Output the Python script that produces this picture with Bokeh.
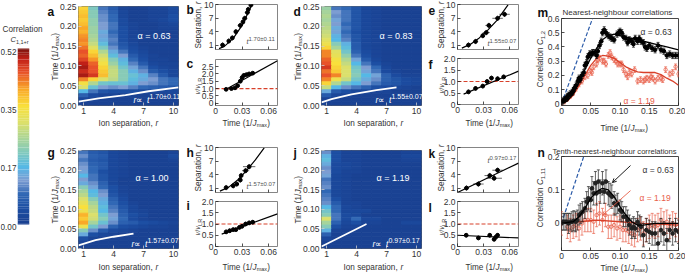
import numpy as np
from bokeh.embed import file_html
from bokeh.resources import INLINE
from bokeh.plotting import figure
from bokeh.layouts import row, column
from bokeh.models import Label, FixedTicker, Arrow, OpenHead, Range1d

# ---------- heat maps: correlation x 100, rows from t=0.245 (top) to t=0.005, columns r=1..10
HEAT_A = [
 [36,21,10,7,2,1,1,2,2,4],[37,22,11,8,3,1,1,2,2,4],[38,22,12,9,3,1,1,2,2,5],[37,23,12,9,4,1,1,2,3,5],
 [38,23,13,10,4,2,1,1,2,3],[40,24,13,10,5,2,1,1,2,2],[39,24,15,9,5,2,1,1,1,1],[41,25,14,10,5,2,1,1,1,1],
 [42,26,15,11,5,2,1,1,1,1],[41,28,18,10,6,3,1,1,1,1],[43,31,21,12,7,4,2,1,1,1],[45,36,26,15,10,5,3,1,1,1],
 [44,38,29,18,13,7,4,2,1,1],[46,41,32,22,16,9,5,2,2,1],[49,44,34,24,18,11,7,3,2,2],[50,45,36,27,20,14,10,5,3,2],
 [48,45,37,28,22,16,12,7,5,3],[50,47,38,28,22,19,16,11,7,3],[42,36,30,27,22,18,15,13,10,9],[34,26,20,19,19,16,13,12,10,9],
 [30,19,13,12,13,11,9,8,7,6],[17,10,6,5,5,5,4,3,3,3],[8,4,2,2,1,1,1,1,1,1],[3,2,1,1,1,1,1,1,1,1],[1,1,1,1,1,1,1,1,1,1]]
HEAT_D = [
 [24,10,9,6,3,2,1,1,1,1],[25,13,10,6,3,2,1,1,1,1],[26,12,10,6,3,2,1,1,1,1],[25,14,10,6,3,2,1,1,1,1],
 [26,13,9,6,3,2,1,1,1,1],[27,15,10,6,3,2,1,1,1,1],[28,14,9,5,3,2,1,1,1,1],[29,16,10,6,3,2,1,1,1,1],
 [31,17,11,6,3,2,1,1,1,1],[33,22,16,7,3,2,1,1,1,1],[36,25,18,7,3,2,1,1,1,1],[42,31,20,8,4,2,1,1,1,1],
 [42,32,23,10,5,2,1,1,1,1],[44,34,26,14,7,3,1,1,1,1],[45,35,28,17,10,5,2,1,1,1],[47,36,30,20,13,9,3,1,1,1],
 [43,37,30,21,14,10,4,2,1,1],[45,42,30,22,17,14,8,4,2,2],[42,33,28,20,15,12,8,6,4,3],[36,26,20,17,13,10,7,6,4,3],
 [28,17,12,10,8,5,4,3,2,1],[15,7,5,3,3,2,2,1,1,1],[7,3,2,1,1,1,1,1,1,1],[2,1,1,1,1,1,1,1,1,1],[1,1,1,1,1,1,1,1,1,1]]
HEAT_G = [
 [10,7,6,3,2,1,1,1,1,2],[12,8,7,3,2,1,1,1,1,4],[10,7,6,3,2,1,1,1,1,2],[12,8,7,3,2,1,1,1,1,1],
 [13,9,7,3,2,1,1,1,1,1],[14,9,5,3,2,1,1,1,1,1],[17,10,6,3,2,1,1,1,1,1],[13,10,6,3,1,1,1,1,1,1],
 [15,12,8,3,1,1,1,1,1,1],[22,14,9,5,2,1,1,1,1,1],[25,17,12,5,2,1,1,1,1,1],[27,18,13,6,3,1,1,1,1,1],
 [30,22,15,8,4,1,1,1,1,1],[32,25,16,9,5,2,1,1,1,1],[35,27,18,10,6,3,1,1,1,1],[33,28,17,11,7,3,2,1,1,1],
 [39,30,20,13,8,5,3,1,1,1],[37,29,22,14,9,4,2,1,1,1],[40,25,19,12,8,7,5,4,3,2],[33,20,13,8,5,4,3,2,2,1],
 [22,12,7,4,3,2,1,1,1,1],[15,5,3,2,1,1,1,1,1,1],[5,2,1,1,1,1,1,1,1,1],[2,1,1,1,1,1,1,1,1,1],[1,1,1,1,1,1,1,1,1,1]]
HEAT_J = [
 [12,5,2,2,1,1,1,1,2,2],[16,5,2,2,1,1,1,1,3,3],[18,5,2,2,1,1,1,1,2,2],[15,4,3,2,1,1,1,1,1,1],
 [12,4,3,2,1,1,1,1,1,1],[13,4,2,2,1,1,1,1,1,1],[14,3,2,1,1,1,1,1,1,1],[10,3,2,1,1,1,1,1,1,1],
 [11,3,2,1,1,1,1,1,1,1],[12,3,2,1,1,1,1,1,1,1],[9,3,2,1,1,1,1,1,1,1],[10,3,2,1,1,1,1,1,1,1],
 [11,5,2,1,1,1,1,1,1,1],[12,7,2,2,1,1,1,1,1,1],[17,9,3,2,1,1,1,1,1,1],[20,9,3,3,3,1,1,1,1,1],
 [22,10,4,3,1,1,1,1,1,1],[30,10,4,9,3,3,1,1,1,1],[25,8,3,5,2,2,1,1,3,3],[22,5,2,2,1,1,1,1,1,1],
 [16,2,1,1,1,1,1,1,1,1],[8,1,1,1,1,1,1,1,1,1],[3,1,1,1,1,1,1,1,1,1],[1,1,1,1,1,1,1,1,1,1],[1,1,1,1,1,1,1,1,1,1]]

FIT_A_R = [0.5, 2.5, 5.2, 7.5, 10.5]; FIT_A_T = [0.010, 0.018, 0.026, 0.036, 0.046]
FIT_D_R = [0.5, 1.5, 3.5, 6.0, 8.0];  FIT_D_T = [0.008, 0.016, 0.028, 0.039, 0.046]
FIT_G_R = [0.5, 2.2, 4.0, 6.0];       FIT_G_T = [0.008, 0.0215, 0.030, 0.038]
FIT_J_R = [0.5, 5.0];                 FIT_J_T = [0.005, 0.0625]

# ---------- separation and velocity panels
B_T = [.008,.015,.019,.023,.028,.031,.033,.036,.037,.040]
B_R = [1.0,1.9,2.6,4.0,5.4,6.2,7.0,8.3,9.0,10.0]
B_XE = [.002,.002,.002,.002,.003,.002,.003,.003,.002,.003]
B_LT = [.004,.010,.020,.030,.040,.050]; B_LR = [.2,.7,2.5,5.4,9.6,14.0]
C_T = [.012,.018,.022,.025,.028,.030,.032,.035,.038,.042]
C_V = [.95,1.0,1.05,1.2,1.5,1.75,1.9,1.95,2.0,2.05]
C_LT = [.012,.070]; C_LV = [.95,2.9]

E_T = [.0126,.0207,.029,.033,.036,.046,.054]; E_R = [1.0,1.8,3.1,3.8,5.4,7.0,7.9]
E_XE = [.002,.003,.002,.004,.004,.006,.006]
E_LT = [.005,.015,.025,.035,.045,.058]; E_LR = [.3,1.2,2.6,4.4,6.5,10.0]
F_T = [.0126,.0207,.029,.034,.039,.046,.053]; F_V = [.55,.7,.8,1.0,1.15,1.12,1.2]
F_LT = [.007,.070]; F_LV = [.45,1.45]

H_T = [.012,.020,.024,.028,.029,.034,.038]; H_R = [1.1,1.5,1.9,2.8,3.8,4.9,5.8]
H_XE = [.001,.002,.002,.002,.002,.004,.007]
H_LT = [.005,.015,.025,.035,.045,.055]; H_LR = [.3,1.2,2.8,4.9,7.3,10.0]
I_T = [.012,.016,.020,.023,.027,.030,.034,.038,.042]
I_V = [.65,.7,.75,.75,.85,.9,1.0,1.05,1.08]
I_LT = [.007,.070]; I_LV = [.55,1.45]

K_T = [.0103,.024,.037,.042,.046]; K_R = [1.0,1.9,3.8,3.2,5.0]
K_XE = [.003,.006,.006,.009,.006]
K_LT = [.0,.070]; K_LR = [0,6.6]
L_T = [.010,.024,.037,.042,.044,.046]; L_V = [.5,.38,.5,.32,.42,.5]
L_LT = [.0,.070]; L_LV = [.5,.38]

# ---------- nearest-neighbour correlations
M_T_K = [0,.002,.005,.008,.01,.012,.015,.018,.02,.022,.025,.028,.03,.032,.035,.038,.04,.043,.045,.048,.05,.053,.056,.06,.062,.065,.068,.07,.073,.076,.08,.083,.086,.09,.095,.098,.1,.103,.106,.11,.113,.116,.12,.123,.126,.13,.133,.136,.14,.143,.146,.15,.155,.16,.165,.17,.175,.18,.185,.19,.195,.2]
M_Y_K = [.01,.02,.03,.04,.05,.06,.07,.08,.09,.11,.13,.16,.18,.17,.20,.22,.27,.29,.33,.35,.35,.36,.36,.34,.37,.41,.44,.50,.52,.50,.48,.47,.46,.45,.49,.50,.51,.50,.47,.46,.43,.45,.44,.42,.46,.44,.46,.44,.43,.40,.39,.41,.39,.38,.41,.38,.37,.34,.35,.34,.34,.34]
M_LT_K = [0,.01,.02,.03,.04,.05,.06,.07,.08,.09,.1,.12,.14,.16,.18,.2]
M_LY_K = [0,.02,.07,.15,.24,.32,.39,.45,.48,.49,.48,.46,.44,.42,.40,.38]
M_T_R = [0,.005,.01,.015,.02,.025,.03,.035,.04,.045,.05,.052,.055,.06,.062,.065,.07,.073,.076,.08,.083,.086,.09,.093,.096,.1,.103,.106,.11,.113,.116,.12,.125,.13,.135,.14,.143,.146,.15,.153,.156,.16,.165,.17,.173,.178,.185,.19,.195,.2]
M_Y_R = [.01,.02,.04,.06,.08,.11,.14,.16,.19,.20,.23,.22,.26,.28,.31,.32,.30,.30,.28,.34,.36,.33,.31,.30,.28,.28,.28,.24,.21,.19,.22,.21,.24,.16,.17,.16,.17,.18,.17,.19,.18,.16,.18,.18,.17,.24,.21,.22,.26,.21]
M_LT_R = [0,.01,.02,.03,.04,.05,.06,.07,.08,.09,.1,.11,.12,.13,.14,.16,.17,.18,.19,.2]
M_LY_R = [0,.02,.06,.13,.20,.27,.32,.34,.335,.32,.29,.26,.24,.225,.22,.22,.205,.18,.16,.13]
M_LR_T = [0,.053]; M_LR_Y = [0,.6]

# ---------- tenth-nearest-neighbour correlations
N_T_K = [0,.003,.006,.009,.012,.015,.018,.021,.024,.027,.03,.033,.036,.04,.043,.046,.05,.052,.055,.058,.06,.063,.066,.07,.073,.076,.08,.083,.086,.09,.093,.096,.1,.103,.106,.11,.113,.116,.12,.123,.126,.13,.133,.136,.14,.145,.15,.155,.16,.165,.17,.175,.18,.185,.19,.195,.2]
N_Y_K = [0,.005,.005,.005,0,.005,.005,.008,.005,.01,.025,.03,.035,.045,.065,.075,.07,.105,.09,.12,.09,.125,.095,.12,.095,.125,.09,.085,.08,.06,.055,.06,.04,.035,.02,.02,.01,-.005,-.015,-.01,-.015,.005,-.005,-.01,-.035,-.02,-.025,-.03,-.03,-.06,-.02,-.03,-.05,-.02,-.03,-.02,-.025]
N_E_K = [.02,.025,.025,.025,.03,.025,.03,.03,.03,.03,.03,.03,.03,.03,.03,.035,.035,.035,.035,.035,.035,.035,.035,.035,.035,.035,.035,.035,.035,.035,.03,.03,.03,.03,.03,.03,.03,.03,.03,.03,.03,.03,.03,.03,.035,.035,.035,.035,.035,.035,.035,.035,.035,.035,.035,.035,.035]
N_LT_K = [0,.02,.03,.04,.05,.06,.07,.08,.09,.1,.11,.12,.13,.14,.16,.2]
N_LY_K = [0,.005,.02,.045,.075,.095,.105,.1,.08,.05,.025,.005,-.005,-.005,0,0]
N_T_R = [0,.01,.015,.02,.025,.03,.035,.04,.045,.05,.055,.06,.065,.07,.075,.08,.085,.09,.095,.1,.105,.11,.115,.12,.125,.13,.135,.14,.145,.15,.155,.16,.165,.17,.175,.18,.185,.19,.195,.2]
N_Y_R = [0,-.01,-.02,-.01,-.005,-.015,0,.01,.01,.01,.005,.025,.03,.01,.025,-.01,-.01,-.005,-.015,-.01,-.02,-.02,-.025,-.03,-.035,-.02,-.015,-.03,-.02,-.01,-.005,-.01,-.005,.01,0,.005,-.01,0,-.005,-.02]
N_LT_R = [0,.03,.06,.1,.14,.2]; N_LY_R = [0,.005,.01,.005,0,-.005]
N_LB_T = [0,.038]; N_LB_Y = [0,.2]
N_ARROW_K = [.118,.173,.087,.122]; N_ARROW_R = [.118,.098,.07,.024]

CB_TICKS = ["0.52","0.35","0.17","0.00"]

COLOR_STOPS = [0,.05,.09,.13,.17,.21,.25,.30,.35,.40,.45,.49,.52]
COLOR_HEX = ["#1a3f8f","#1d4fa3","#3168b5","#7d9dd2","#55b8e6","#7fc9c0","#a6d49c","#dbe06c","#f9e03c","#f9a828","#e8522a","#c02018","#7a1410"]

FONT = "Liberation Sans"
TXT = "#333333"
RED = "#e8604a"
BLUE = "#2a5aa8"
WIDTHS = {' ':.278,'(':.333,')':.333,'/':.278,',':.278,'.':.278,'-':.333,'=':.584,'1':.556,'2':.556,'i':.222,'l':.222,'t':.278,'r':.333,'f':.278,'j':.222,'m':.833,'w':.722,'T':.611,'I':.278,'J':.5,'S':.667,'C':.722,'N':.722,'v':.5,'L':.556,'R':.722,'±':.549,'∝':.713}

rgb = np.array([[int(h[i:i+2],16) for i in (1,3,5)] for h in COLOR_HEX], float)
def colour(v):
    c = [np.interp(v, COLOR_STOPS, rgb[:,k]) for k in range(3)]
    return ["#%02x%02x%02x" % (int(a),int(b),int(d)) for a,b,d in zip(*c)]

# transparent sheet on top of all panels, carrying the labels that lie outside the panels' frames
sheet = figure(width=685, height=273, x_range=Range1d(0,685), y_range=Range1d(273,0), toolbar_location=None,
               output_backend="svg", min_border=0, background_fill_color=None, border_fill_color=None,
               outline_line_color=None, margin=(-273,0,0,0))
sheet.grid.visible = False
sheet.axis.visible = False

def panel(box, frame, xr, yr, xticks=None, yticks=None, xover=None, yover=None, line="#222222", tick="#222222"):
    x0,y0,x1,y1 = box
    fl,ft,fr,fb = frame
    p = figure(frame_width=fr-fl, frame_height=fb-ft,
               min_border_left=fl-x0, min_border_right=x1-fr, min_border_top=ft-y0, min_border_bottom=y1-fb,
               x_range=Range1d(*xr), y_range=Range1d(*yr), toolbar_location=None, output_backend="svg",
               background_fill_color="white", border_fill_color=None)
    p.grid.visible = False
    p.outline_line_color = line
    p.outline_line_width = 0.9
    for ax, ticks, over in ((p.xaxis[0], xticks, xover), (p.yaxis[0], yticks, yover)):
        ax.axis_line_color = None
        ax.major_tick_in = 3
        ax.major_tick_out = 0
        ax.minor_tick_line_color = None
        ax.major_tick_line_color = tick
        ax.major_tick_line_width = 0.8
        ax.major_label_text_font = FONT
        ax.major_label_text_font_size = "8.5px"
        ax.major_label_text_color = TXT
        ax.major_label_standoff = 2
        ax.ticker = FixedTicker(ticks=ticks if ticks else [])
        if over:
            ax.major_label_overrides = over
    return p

def put(x, y, text, size=8.5, italic=False, bold=False, color=TXT, angle=0.0):
    style = "bold" if bold else ("italic" if italic else "normal")
    sheet.add_layout(Label(x=x, y=y, text=text, angle=angle,
                       text_font=FONT, text_font_size=f"{size}px", text_font_style=style, text_color=color,
                       text_align="left", text_baseline="alphabetic"))

def rich(x, y, pieces, color=TXT, vertical=False):
    for text, size, italic, dy in pieces:
        if vertical:
            put(x+dy, y, text, size, italic, color=color, angle=np.pi/2)
            y -= sum(WIDTHS.get(c,.556) for c in text)*size
        else:
            put(x, y+dy, text, size, italic, color=color)
            x += sum(WIDTHS.get(c,.556) for c in text)*size

TIME = [("Time (1/",8.2,False,0),("J",8.2,True,0),("max",5.5,False,1.5),(")",8.2,False,0)]
SEP = [("Separation, ",8.2,False,0),("r",8.2,True,0)]
VEL = [("v",7.5,True,0),("/",7.5,False,0),("v",7.5,True,0),("LR",5.5,False,2)]

def heat(box, frame, data, fit_r, fit_t, alpha, expo, letter, lx, ly, ty, ylx, xl_x, xl_y, ylab_y, rx, ry):
    p = panel(box, frame, (.5,10.5), (0,.25), [1,4,7,10], [0,.05,.1,.15,.2,.25],
              yover={0:"0.00",.05:"0.05",.1:"0.10",.15:"0.15",.2:"0.20",.25:"0.25"}, line="#555555", tick="#cccccc")
    arr = np.array(data)/100
    tt = np.arange(arr.shape[0])[::-1]*0.01+0.005
    rr = np.arange(1,11)
    X,Y = np.meshgrid(rr,tt)
    col = colour(arr.ravel())
    p.rect(X.ravel(), Y.ravel(), width=1, height=0.01, fill_color=col, line_color=col, line_width=0.8)
    p.line(fit_r, fit_t, line_color="white", line_width=1.8)
    put(lx, ly, letter, 12, bold=True, color="#111111")
    put(rx+4, ty, "α = "+alpha, 9, color="white")
    rich(rx, ry, [("r",8.5,True,0),(" ∝ ",8.5,False,0),("t",8.5,True,0),(expo,7,False,-3.5)], color="white")
    rich(ylx, ylab_y, TIME, vertical=True)
    rich(xl_x, xl_y, [("Ion separation, ",8.2,False,0),("r",8.2,True,0)])
    return p

def small_sep(box, frame, t, r, xe, lt, lr, expo, letter, lx, ly, tx, ty, labx):
    p = panel(box, frame, (0,.07), (0,10.1), [0,.03,.06], [1,4,7,10], xover={0:"",.03:"",.06:""},
              line="#777777")
    p.line(lt, lr, line_color="black", line_width=1.2)
    t,r,xe = map(np.array,(t,r,xe))
    p.segment(t-xe, r, t+xe, r, line_color="black", line_width=.6)
    p.segment(t, r-.6, t, r+.6, line_color="black", line_width=.6)
    p.scatter(t, r, size=3.8, color="black")
    put(lx, ly, letter, 12, bold=True, color="#111111")
    rich(tx, ty, [("t",7.5,True,0),(expo,6,False,-3)], color="#555555")
    rich(labx, frame[3]-1, SEP, vertical=True)
    return p

def small_vel(box, frame, yr, yticks, yover, t, v, lt, lv, letter, lx, ly, labx, tx, ty):
    p = panel(box, frame, (0,.07), yr, [0,.03,.06], yticks, xover={0:"0",.03:"0.03",.06:"0.06"}, yover=yover,
              line="#777777")
    p.line((0,.07),(1,1), line_color="#d8402a", line_width=1.1, line_dash="4 2")
    p.line(lt, lv, line_color="black", line_width=1.2)
    t,v = np.array(t),np.array(v)
    p.segment(t, v-.1, t, v+.1, line_color="black", line_width=.6)
    p.segment(t-.002, v, t+.002, v, line_color="black", line_width=.6)
    p.scatter(t, v, size=3.8, color="black")
    put(lx, ly, letter, 12, bold=True, color="#111111")
    rich(labx, (frame[1]+frame[3])//2+12, VEL, vertical=True)
    rich(tx, ty, TIME)
    return p

OV3 = {0:"0",.5:"0.5",1:"1.0",1.5:"1.5",2:"2.0",2.5:"2.5"}
OV2 = {0:"0",.5:"0.5",1:"1.0",1.5:"1.5",2:"2.0"}

# colour bar (its axis has no room to the left of the bar: labels sit on the sheet)
cb = panel((0,0,45,273),(17,48,29,224),(0,1),(0,.52),None,None, line=None, tick=None)
levels = np.linspace(0,.52,105)
cb.rect(0.5, levels, width=1, height=.0055, fill_color=colour(levels), line_color=None)
cb.xaxis.visible = False
cb.yaxis.visible = False
for txt, ypix in zip(CB_TICKS, (51, 109, 167, 226)):
    put(0, ypix, txt, 8.2)
put(2, 29, "Correlation", 8.2)
rich(10, 39, [("C",7.5,True,0),("1,1+r",5.5,False,2)])

a = heat((45,0,184,135),(78,6,178,105),HEAT_A,FIT_A_R,FIT_A_T,"0.63","1.70±0.11","a",47,11,35,55,98,123,80,133,99)
g = heat((45,135,184,273),(78,150,178,248),HEAT_G,FIT_G_R,FIT_G_T,"1.00","1.57±0.07","g",47,152,177,55,98,267,223,131,243)
d = heat((290,0,425,135),(321,6,421,105),HEAT_D,FIT_D_R,FIT_D_T,"0.83","1.55±0.07","d",293,11,35,298,343,123,80,375,99)
j = heat((290,135,425,273),(321,150,421,248),HEAT_J,FIT_J_R,FIT_J_T,"1.19","0.97±0.17","j",293,152,177,298,343,267,223,372,243)

b = small_sep((184,0,290,54),(215,4,277,49),B_T,B_R,B_XE,B_LT,B_LR,"1.70±0.11","b",186,9,246,41,198)
c = small_vel((184,54,290,135),(215,59,277,105),(-.15,2.98),[0,.5,1,1.5,2,2.5],OV3,C_T,C_V,C_LT,C_LV,"c",186,63,197,222,123)
h = small_sep((184,135,290,197),(215,147,277,192),H_T,H_R,H_XE,H_LT,H_LR,"1.57±0.07","h",186,152,246,186,198)
i = small_vel((184,197,290,273),(215,201,277,246),(0,2),[0,.5,1,1.5,2],OV2,I_T,I_V,I_LT,I_LV,"i",186,205,197,222,267)
e = small_sep((425,0,530,54),(457,4,518,49),E_T,E_R,E_XE,E_LT,E_LR,"1.55±0.07","e",428,10,487,43,441)
f = small_vel((425,54,530,135),(457,58,518,104),(0,2),[0,.5,1,1.5,2],OV2,F_T,F_V,F_LT,F_LV,"f",428,64,441,465,123)
k = small_sep((425,135,530,197),(457,147,518,192),K_T,K_R,K_XE,K_LT,K_LR,"0.97±0.17","k",428,153,487,160,441)
l = small_vel((425,197,530,273),(457,201,518,246),(0,2),[0,.5,1,1.5,2],OV2,L_T,L_V,L_LT,L_LV,"l",428,207,441,465,267)

XO = {0:"0",.05:"0.05",.1:"0.10",.15:"0.15",.2:"0.20"}
m = panel((530,0,685,135),(561,18,678,105),(0,.2),(-.012,.6),[0,.05,.1,.15,.2],[0,.1,.2,.3,.4,.5,.6],xover=XO,
          yover={0:"0",.1:"0.1",.2:"0.2",.3:"0.3",.4:"0.4",.5:"0.5",.6:"0.6"}, line="#333333")
m.line(M_LR_T, M_LR_Y, line_color=BLUE, line_width=1.2, line_dash="4 2")
def errs(p, t, y, e, colr, hollow):
    t,y,e = np.array(t),np.array(y),np.array(e)
    p.segment(t, y-e, t, y+e, line_color=colr, line_width=.7)
    p.scatter(t, y-e, marker="dash", size=3, line_color=colr, line_width=.7)
    p.scatter(t, y+e, marker="dash", size=3, line_color=colr, line_width=.7)
    if hollow:
        p.scatter(t, y, size=3.4, line_color=colr, fill_color=None, line_width=.8)
    else:
        p.scatter(t, y, size=3.7, color=colr)
errs(m, M_T_R, M_Y_R, [.02]*len(M_T_R), RED, True)
m.line(M_LT_R, M_LY_R, line_color="#d8402a", line_width=1.3)
errs(m, M_T_K, M_Y_K, [.022]*len(M_T_K), "black", False)
m.line(M_LT_K, M_LY_K, line_color="black", line_width=1.3)
put(537, 12, "m", 12, bold=True, color="#111111")
put(562, 12, "Nearest-neighbour correlations", 8.0)
put(640, 31, "α = 0.63", 8.5)
put(623, 100, "α = 1.19", 8.5, color=RED)
rich(540, 87, [("Correlation ",8.2,False,0),("C",8.2,True,0),("1,2",6,False,2)], vertical=True)
rich(600, 128, TIME)

n = panel((530,135,685,273),(561,156,678,250),(0,.2),(-.081,.2),[0,.05,.1,.15,.2],[0,.1,.2],xover=XO,
          yover={0:"0",.1:"0.1",.2:"0.2"}, line="#333333")
n.line(N_LB_T, N_LB_Y, line_color=BLUE, line_width=1.2, line_dash="4 2")
errs(n, N_T_R, N_Y_R, [.035]*len(N_T_R), RED, True)
n.line(N_LT_R, N_LY_R, line_color="#d8402a", line_width=1.3)
errs(n, N_T_K, N_Y_K, N_E_K, "#222222", False)
n.line(N_LT_K, N_LY_K, line_color="black", line_width=1.3)
n.add_layout(Arrow(x_start=N_ARROW_K[0], y_start=N_ARROW_K[1], x_end=N_ARROW_K[2], y_end=N_ARROW_K[3],
                   line_color="black", line_width=.9, end=OpenHead(size=4, line_color="black", line_width=.9)))
n.add_layout(Arrow(x_start=N_ARROW_R[0], y_start=N_ARROW_R[1], x_end=N_ARROW_R[2], y_end=N_ARROW_R[3],
                   line_color=RED, line_width=.9, end=OpenHead(size=4, line_color=RED, line_width=.9)))
put(537, 152, "n", 12, bold=True, color="#111111")
put(552, 151, "Tenth-nearest-neighbour correlations", 7.6)
put(642, 169, "α = 0.63", 8.5)
put(639, 197, "α = 1.19", 8.5, color=RED)
rich(540, 227, [("Correlation ",8.2,False,0),("C",8.2,True,0),("1,11",6,False,2)], vertical=True)
rich(600, 268, TIME)

main = row(cb, column(a,g), column(b,c,h,i), column(d,j), column(e,f,k,l), column(m,n))
root = column(main, sheet)
open("out.html","w").write(file_html(root, INLINE))
